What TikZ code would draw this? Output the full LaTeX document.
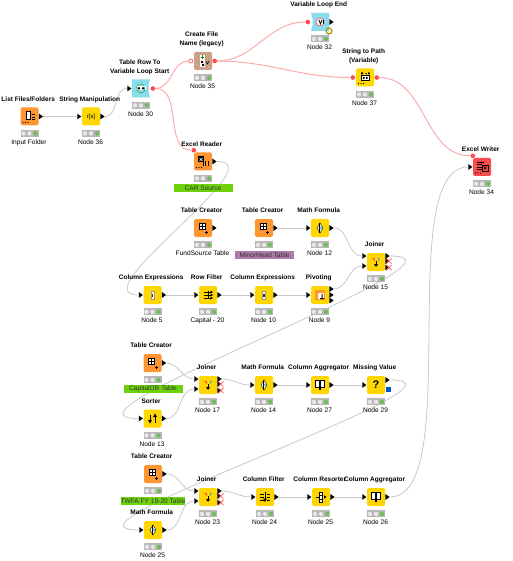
\documentclass[tikz,border=0pt]{standalone}
\usepackage{fontspec}
\setmainfont{Liberation Sans}
\usetikzlibrary{shapes.geometric, shapes.misc, positioning, backgrounds}
\definecolor{sourcecolor}{RGB}{255, 150, 50}
\definecolor{manipcolor}{RGB}{255, 214, 0}
\definecolor{loopcolor}{RGB}{138, 219, 235}
\definecolor{filecolor}{RGB}{203, 161, 133}
\definecolor{writercolor}{RGB}{249, 74, 78}
\definecolor{flowcolor}{RGB}{255, 75, 75}
\definecolor{flowwirecolor}{RGB}{255, 170, 170}
\definecolor{wirecolor}{RGB}{200, 200, 200}
\definecolor{barcolor}{RGB}{184, 184, 184}
\definecolor{lampcolor}{RGB}{232, 232, 232}
\definecolor{okcolor}{RGB}{109, 190, 91}
\definecolor{greennote}{RGB}{111, 209, 12}
\definecolor{purplenote}{RGB}{175, 122, 168}
\definecolor{tablecolor}{RGB}{60, 180, 190}

\begin{document}
\begin{tikzpicture}[
    x=1pt, y=-1pt,
    knode/.style={
        rectangle,
        rounded corners=1.5pt,
        minimum size=18pt,
        inner sep=0pt,
        font=\fontsize{6}{6}\selectfont\bfseries
    },
    source/.style={knode, fill=sourcecolor},
    manip/.style={knode, fill=manipcolor},
    filenode/.style={knode, fill=filecolor},
    writernode/.style={knode, fill=writercolor},
    loopnode/.style={knode},
    nodetitle/.style={
        font=\fontsize{6.5}{8.8}\selectfont\bfseries,
        inner sep=0pt,
        align=center,
        text depth=0pt,
        xshift=-1.3pt,
        yshift=6pt
    },
    nodecaption/.style={
        font=\fontsize{6.6}{8}\selectfont,
        inner sep=0pt,
        text height=4.8pt,
        text depth=0pt,
        xshift=-.5pt,
        yshift=-13.6pt
    },
    anno/.style={
        font=\fontsize{6.6}{8}\selectfont,
        text=black!80,
        inner sep=0pt,
        minimum width=59pt,
        minimum height=8.6pt
    },
    inport/.style={
        isosceles triangle,
        isosceles triangle apex angle=70,
        fill=black,
        inner sep=0pt,
        minimum size=4.2pt,
        anchor=east
    },
    outport/.style={inport, anchor=west},
    deadport/.style={
        cross out,
        draw=flowcolor!80,
        line width=.8pt,
        inner sep=0pt,
        minimum size=4.5pt
    },
    flowport/.style={circle, fill=flowcolor, inner sep=0pt, minimum size=4.6pt},
    flowhollow/.style={circle, draw=flowcolor, fill=white, line width=.6pt, inner sep=0pt, minimum size=4.2pt},
    statusbar/.style={fill=barcolor, inner sep=0pt, minimum width=18pt, minimum height=7pt},
    lamp/.style={circle, fill=lampcolor, inner sep=0pt, minimum size=4.4pt},
    wire/.style={draw=wirecolor, line width=.8pt},
    flowwire/.style={draw=flowwirecolor, line width=1pt},
    icon/.style={draw=black, line width=.6pt},
    dots/.pic={
        \fill (-6.5,6) circle (.6) (-4,6) circle (.6) (-1.5,6) circle (.6);
    },
    gridicon/.pic={
        \draw[icon, fill=white] (-4,-4.5) rectangle (2,1);
        \draw[icon] (-4,-1.8) -- (2,-1.8) (-1,-4.5) -- (-1,1);
        \draw[icon] (2,4) -- (5,4) (3.5,2.5) -- (3.5,5.5);
    },
    mathicon/.pic={
        \draw[icon, fill=white, line width=.4pt] (-3,0) -- (0,-5) -- (3,0) -- (0,5) -- cycle;
        \draw[icon] (-1,-5) -- (-1,5);
        \draw[tablecolor, line width=.5pt] (0,-1.5) -- (2,1.5) (2,-1.5) -- (0,1.5);
    },
    expricon/.pic={
        \draw[black!40, fill=white, line width=.4pt] (-1.6,-4) rectangle (1.6,4);
        \fill[black!80] (-.9,-1.5) rectangle (.9,1.5);
    },
    aggicon/.pic={
        \draw[icon, fill=white] (-4.5,-5) rectangle (-.6,2);
        \draw[icon, fill=white] (.6,-5) rectangle (4.5,2);
        \draw[icon] (-.6,2) -- (-.6,5) (.6,2) -- (.6,5);
    }
]

\useasboundingbox (0,0) rectangle (512,561);

% Top branch
\node[source, label={[nodetitle]above:List Files/Folders}, label={[nodecaption]below:Input Folder}] (listfiles) at (29.5,116.5) {};
\node[manip, font=\fontsize{6}{6}\selectfont, label={[nodetitle]above:String Manipulation}, label={[nodecaption]below:Node 36}] (strmanip) at (91,116.5) {r[s]};
\node[loopnode, label={[nodetitle]above:Table Row To\\Variable Loop Start}, label={[nodecaption]below:Node 30}] (rowloop) at (141,88.5) {};
\node[filenode, label={[nodetitle]above:Create File\\Name (legacy)}, label={[nodecaption]below:Node 35}] (createfile) at (203,61) {};
\node[loopnode, label={[nodetitle]above:Variable Loop End}, label={[nodecaption]below:Node 32}] (loopend) at (320,22) {};
\node[manip, label={[nodetitle]above:String to Path\\(Variable)}, label={[nodecaption]below:Node 37}] (strpath) at (365,77.5) {};
\node[writernode, label={[nodetitle]above:Excel Writer}, label={[nodecaption]below:Node 34}] (writer) at (482,167) {};
\node[source, label={[nodetitle]above:Excel Reader}] (reader) at (203,161.5) {};
\node[anno, fill=greennote] (carsrc) at (203,188) {CAR Source};

% Second block
\node[source, label={[nodetitle]above:Table Creator}, label={[nodecaption]below:FundSource Table}] (fundsrc) at (203,228) {};
\node[source, label={[nodetitle]above:Table Creator}] (minorhead) at (264,228) {};
\node[anno, fill=purplenote] (minornote) at (264.5,255) {MinorHead Table};
\node[manip, label={[nodetitle]above:Math Formula}, label={[nodecaption]below:Node 12}] (math12) at (320,228) {};
\node[manip, label={[nodetitle]above:Joiner}, label={[nodecaption]below:Node 15}] (join15) at (376,262) {};
\node[manip, label={[nodetitle]above:Column Expressions}, label={[nodecaption]below:Node 5}] (expr5) at (152.5,295) {};
\node[manip, label={[nodetitle]above:Row Filter}, label={[nodecaption]below:Capital - 20}] (rowfilter) at (208,295) {};
\node[manip, label={[nodetitle]above:Column Expressions}, label={[nodecaption]below:Node 10}] (expr10) at (264,295) {};
\node[manip, label={[nodetitle]above:Pivoting}, label={[nodecaption]below:Node 9}] (pivot) at (320,295) {};

% Third block
\node[source, label={[nodetitle]above:Table Creator}] (tableob) at (152.5,363) {};
\node[anno, fill=greennote] (obnote) at (153,389) {CapitalOB Table};
\node[manip, label={[nodetitle]above:Sorter}, label={[nodecaption]below:Node 13}] (sorter) at (152.5,418.5) {};
\node[manip, label={[nodetitle]above:Joiner}, label={[nodecaption]below:Node 17}] (join17) at (208,385) {};
\node[manip, label={[nodetitle]above:Math Formula}, label={[nodecaption]below:Node 14}] (math14) at (264,385) {};
\node[manip, label={[nodetitle]above:Column Aggregator}, label={[nodecaption]below:Node 27}] (agg27) at (320,385) {};
\node[manip, font=\fontsize{11}{11}\selectfont\bfseries, label={[nodetitle]above:Missing Value}, label={[nodecaption]below:Node 29}] (missing) at (376,385) {?};

% Fourth block
\node[source, label={[nodetitle]above:Table Creator}] (tabletwfa) at (153,474) {};
\node[anno, fill=greennote] (twfanote) at (153,501) {TWFA FY 19-20 Table};
\node[manip, label={[nodetitle]above:Math Formula}, label={[nodecaption]below:Node 25}] (mathtwfa) at (153,530) {};
\node[manip, label={[nodetitle]above:Joiner}, label={[nodecaption]below:Node 23}] (join23) at (208,497) {};
\node[manip, label={[nodetitle]above:Column Filter}, label={[nodecaption]below:Node 24}] (colfilter) at (265,497) {};
\node[manip, label={[nodetitle]above:Column Resorter}, label={[nodecaption]below:Node 25}] (resorter) at (321,497) {};
\node[manip, label={[nodetitle]above:Column Aggregator}, label={[nodecaption]below:Node 26}] (agg26) at (376,497) {};

% Status lights
\foreach \n in {listfiles,strmanip,rowloop,createfile,loopend,strpath,writer,reader,fundsrc,minorhead,math12,join15,expr5,rowfilter,expr10,pivot,tableob,sorter,join17,math14,agg27,missing,tabletwfa,mathtwfa,join23,colfilter,resorter,agg26} {
    \node[statusbar, below=4pt of \n] (\n-bar) {};
    \node[lamp, xshift=-6pt] (\n-red) at (\n-bar) {};
    \node[lamp] (\n-amber) at (\n-bar) {};
    \node[lamp, xshift=6pt, fill=okcolor] (\n-ok) at (\n-bar) {};
}

% Data ports
\foreach \n in {strmanip,rowloop,math12,expr5,rowfilter,expr10,pivot,sorter,math14,agg27,missing,mathtwfa,colfilter,resorter,agg26,writer}
    \node[inport] (\n-in) at (\n.west) {};
\foreach \n in {listfiles,strmanip,reader,fundsrc,minorhead,math12,expr5,rowfilter,expr10,tableob,sorter,math14,agg27,tabletwfa,mathtwfa,colfilter,resorter,agg26,loopend}
    \node[outport] (\n-out) at (\n.east) {};
\foreach \n in {join15,join17,join23} {
    \node[inport, yshift=6pt] (\n-ina) at (\n.west) {};
    \node[inport, yshift=-4pt] (\n-inb) at (\n.west) {};
    \node[outport, yshift=6pt] (\n-out) at (\n.east) {};
    \node[outport, yshift=1pt] (\n-outb) at (\n.east) {};
    \node[outport, yshift=-5.5pt] (\n-outc) at (\n.east) {};
    \node[deadport, xshift=2pt] (\n-xb) at (\n-outb) {};
    \node[deadport, xshift=2pt] (\n-xc) at (\n-outc) {};
}
\node[outport, yshift=6pt] (pivot-out) at (pivot.east) {};
\node[outport] (pivot-outb) at (pivot.east) {};
\node[outport, yshift=-5.5pt] (pivot-outc) at (pivot.east) {};
\node[outport, yshift=5pt] (missing-out) at (missing.east) {};
\node[fill=blue!60!cyan!80!black, inner sep=0pt, minimum size=4.6pt, anchor=west, xshift=.7pt, yshift=-4.7pt] (missing-outb) at (missing.east) {};

% Flow variable ports
\node[flowport, xshift=2.7pt] (rowloop-flow) at (rowloop.east) {};
\node[flowhollow, xshift=-3pt] (createfile-in) at (createfile.west) {};
\node[flowport, xshift=2.5pt] (createfile-out) at (createfile.east) {};
\node[flowport, xshift=-3pt] (loopend-in) at (loopend.west) {};
\node[flowport, xshift=-3pt] (strpath-in) at (strpath.west) {};
\node[flowport, xshift=2.5pt] (strpath-out) at (strpath.east) {};
\node[flowport, yshift=2pt] (reader-flow) at (reader.north west) {};
\node[flowport, yshift=2pt] (writer-flow) at (writer.north west) {};

% Icons
\begin{scope}[shift={(rowloop)}]
    \fill[loopcolor] (-9,-9) -- (9,-9) -- (7.5,-3) -- (7.5,3) -- (9,9) -- (-9,9) -- cycle;
    \draw[green!60!black, densely dotted, line width=.8pt] (0,0) circle (4.5);
    \fill[white] (-4.5,-2) rectangle (4.5,2);
    \fill (-3.5,-1) rectangle (-1,1) (1,-1) rectangle (3.5,1);
\end{scope}
\begin{scope}[shift={(loopend)}]
    \fill[loopcolor] (-9,-9) -- (9,-9) -- (9,9) -- (-9,9) -- (-7.5,3) -- (-7.5,-3) -- cycle;
    \draw[flowcolor, fill=white, line width=.6pt] (0,0) circle (4);
    \draw[line width=.8pt] (-1,-2) -- (.5,2) -- (2,-2) (3.5,-2) -- (3.5,2);
    \draw[olive!80!yellow, line width=1.2pt] (9,9) circle (3);
\end{scope}
\pic at (listfiles) {dots};
\draw[icon, fill=white] ([shift={(-3.5,-5.5)}]listfiles.center) rectangle ([shift={(.5,3)}]listfiles.center);
\draw[icon] ([shift={(2,-2)}]listfiles.center) -- ([shift={(5,-2)}]listfiles.center) ([shift={(2,.5)}]listfiles.center) -- ([shift={(5,.5)}]listfiles.center) ([shift={(2,3)}]listfiles.center) -- ([shift={(5,3)}]listfiles.center);
\begin{scope}[shift={(createfile)}]
    \fill[white] (-3.5,-6) rectangle (2,6);
    \draw[green!60!black, line width=.8pt] (-2.5,-4) -- (1,-4) (-.7,-6) -- (-.7,-2);
    \fill (-2,0) rectangle (0,2) (-1,3) rectangle (1,5);
    \draw[icon] (3,0) -- (4.5,3) -- (6,0);
\end{scope}
\pic at (reader) {dots};
\begin{scope}[shift={(reader)}]
    \fill (-5,-5) rectangle (1,1);
    \draw[white, line width=.7pt] (-3.5,-3.5) -- (-.5,-.5) (-.5,-3.5) -- (-3.5,-.5);
    \draw[icon, fill=white, line width=.4pt] (0,0) grid[step=2.5] (5,5);
\end{scope}
\pic at (writer) {dots};
\begin{scope}[shift={(writer)}]
    \draw[icon, line width=.5pt] (-5,-5) -- (2,-5) (-5,-2.5) -- (0,-2.5) (-5,0) -- (0,0) (-5,2.5) -- (0,2.5);
    \draw[icon] (0,-2) rectangle (6,4);
    \draw[icon] (1.5,-.5) -- (4.5,2.5) (4.5,-.5) -- (1.5,2.5);
\end{scope}
\pic at (strpath) {dots};
\begin{scope}[shift={(strpath)}]
    \fill (-4,-5) rectangle (-2,-3) (0,-4.2) rectangle (2,-3.4) (3,-5) rectangle (4.5,-3);
    \draw[icon, fill=white] (-4,-2) rectangle (4.5,3);
    \fill (-2.2,-.5) rectangle (-.5,1.5) (1,-.5) rectangle (2.7,1.5);
\end{scope}
\pic at (fundsrc) {gridicon};
\pic at (minorhead) {gridicon};
\pic at (tableob) {gridicon};
\pic at (tabletwfa) {gridicon};
\pic at (math12) {mathicon};
\pic at (math14) {mathicon};
\pic at (mathtwfa) {mathicon};
\pic at (expr5) {expricon};
\pic at (expr10) {expricon};
\pic at (agg27) {aggicon};
\pic at (agg26) {aggicon};
\begin{scope}[shift={(rowfilter)}]
    \draw[icon] (-4.5,-3) -- (4,-3) (-4.5,0) -- (4,0) (-4.5,3) -- (4,3) (.5,-4) -- (.5,4);
    \fill (5,-3) -- (2.7,-4.3) -- (2.7,-1.7) -- cycle (5,0) -- (2.7,-1.3) -- (2.7,1.3) -- cycle (5,3) -- (2.7,1.7) -- (2.7,4.3) -- cycle;
\end{scope}
\begin{scope}[shift={(pivot)}]
    \draw[sourcecolor, fill=white, line width=.8pt] (-4.5,-4.5) rectangle (4.5,4.5);
    \fill[sourcecolor] (-4.5,-4.5) rectangle (4.5,-2) (-4.5,-4.5) rectangle (-2,4.5);
    \fill (1.5,-1) rectangle (2.5,3.5) (0,3) rectangle (4,4);
\end{scope}
\begin{scope}[shift={(sorter)}]
    \draw[line width=1pt] (-2.5,-4) -- (-2.5,2) (2.5,-2) -- (2.5,4);
    \fill (-2.5,5) -- (-4.5,1.5) -- (-.5,1.5) -- cycle (2.5,-5) -- (.5,-1.5) -- (4.5,-1.5) -- cycle;
\end{scope}
\foreach \n in {join15,join17,join23} {
    \draw[flowcolor, line width=.6pt] ([shift={(-4,-4)}]\n.center) -- ([shift={(-2,-4)}]\n.center) -- ([shift={(-2,-1)}]\n.center);
    \draw[tablecolor, line width=.6pt] ([shift={(4,-4)}]\n.center) -- ([shift={(2,-4)}]\n.center) -- ([shift={(2,-1)}]\n.center);
    \draw[line width=.8pt] ([shift={(0,-1)}]\n.center) -- ([shift={(0,3)}]\n.center);
    \fill ([shift={(0,5)}]\n.center) -- ([shift={(-2,2)}]\n.center) -- ([shift={(2,2)}]\n.center) -- cycle;
}
\begin{scope}[shift={(colfilter)}]
    \draw[icon] (-5,-3) -- (-1.5,-3) (-5,0) -- (-1.5,0) (-5,3) -- (-1.5,3) (1.5,-3) -- (5,-3) (1.5,0) -- (5,0) (1.5,3) -- (5,3);
    \draw[line width=.9pt] (0,-5) -- (0,2);
    \fill (0,5) -- (-2,1.5) -- (2,1.5) -- cycle;
\end{scope}
\begin{scope}[shift={(resorter)}]
    \draw[icon, fill=white] (-2,-5) rectangle (1,5);
    \draw[icon] (-2,-2) -- (1,-2) (-2,2) -- (1,2) (-5,0) -- (-2,0);
    \fill (3,-1.7) -- (5.5,0) -- (3,1.7) -- cycle;
\end{scope}

% Wires
\begin{scope}[on background layer]
    \draw[wire] (listfiles-out.east) -- (strmanip-in.west);
    \draw[wire] (strmanip-out.east) to[out=0,in=180] (rowloop-in.west);
    \draw[flowwire] (rowloop-flow) to[out=0,in=180] (createfile-in);
    \draw[flowwire] (rowloop-flow) to[out=0,in=180] (reader-flow);
    \draw[flowwire] (createfile-out) to[out=0,in=180] (loopend-in);
    \draw[flowwire] (createfile-out) to[out=0,in=180] (strpath-in);
    \draw[flowwire] (strpath-out) to[out=0,in=180] (writer-flow);
    \draw[wire] (reader-out.east) to[out=0,in=180,distance=60pt] (expr5-in.west);
    \draw[wire] (minorhead-out.east) -- (math12-in.west);
    \draw[wire] (math12-out.east) to[out=0,in=180] (join15-ina.west);
    \draw[wire] (pivot-out.east) to[out=0,in=180] (join15-inb.west);
    \draw[wire] (expr5-out.east) -- (rowfilter-in.west);
    \draw[wire] (rowfilter-out.east) -- (expr10-in.west);
    \draw[wire] (expr10-out.east) -- (pivot-in.west);
    \draw[wire] (join15-out.east) to[out=0,in=180,distance=105pt] (sorter-in.west);
    \draw[wire] (tableob-out.east) to[out=0,in=180] (join17-ina.west);
    \draw[wire] (sorter-out.east) to[out=0,in=180] (join17-inb.west);
    \draw[wire] (join17-out.east) to[out=0,in=180] (math14-in.west);
    \draw[wire] (math14-out.east) -- (agg27-in.west);
    \draw[wire] (agg27-out.east) -- (missing-in.west);
    \draw[wire] (missing-out.east) to[out=0,in=180,distance=105pt] (mathtwfa-in.west);
    \draw[wire] (tabletwfa-out.east) to[out=0,in=180] (join23-ina.west);
    \draw[wire] (mathtwfa-out.east) to[out=0,in=180] (join23-inb.west);
    \draw[wire] (join23-out.east) to[out=0,in=180] (colfilter-in.west);
    \draw[wire] (colfilter-out.east) -- (resorter-in.west);
    \draw[wire] (resorter-out.east) -- (agg26-in.west);
    \draw[wire] (agg26-out.east) to[out=0,in=180,distance=75pt] (writer-in.west);
\end{scope}

\end{tikzpicture}
\end{document}
